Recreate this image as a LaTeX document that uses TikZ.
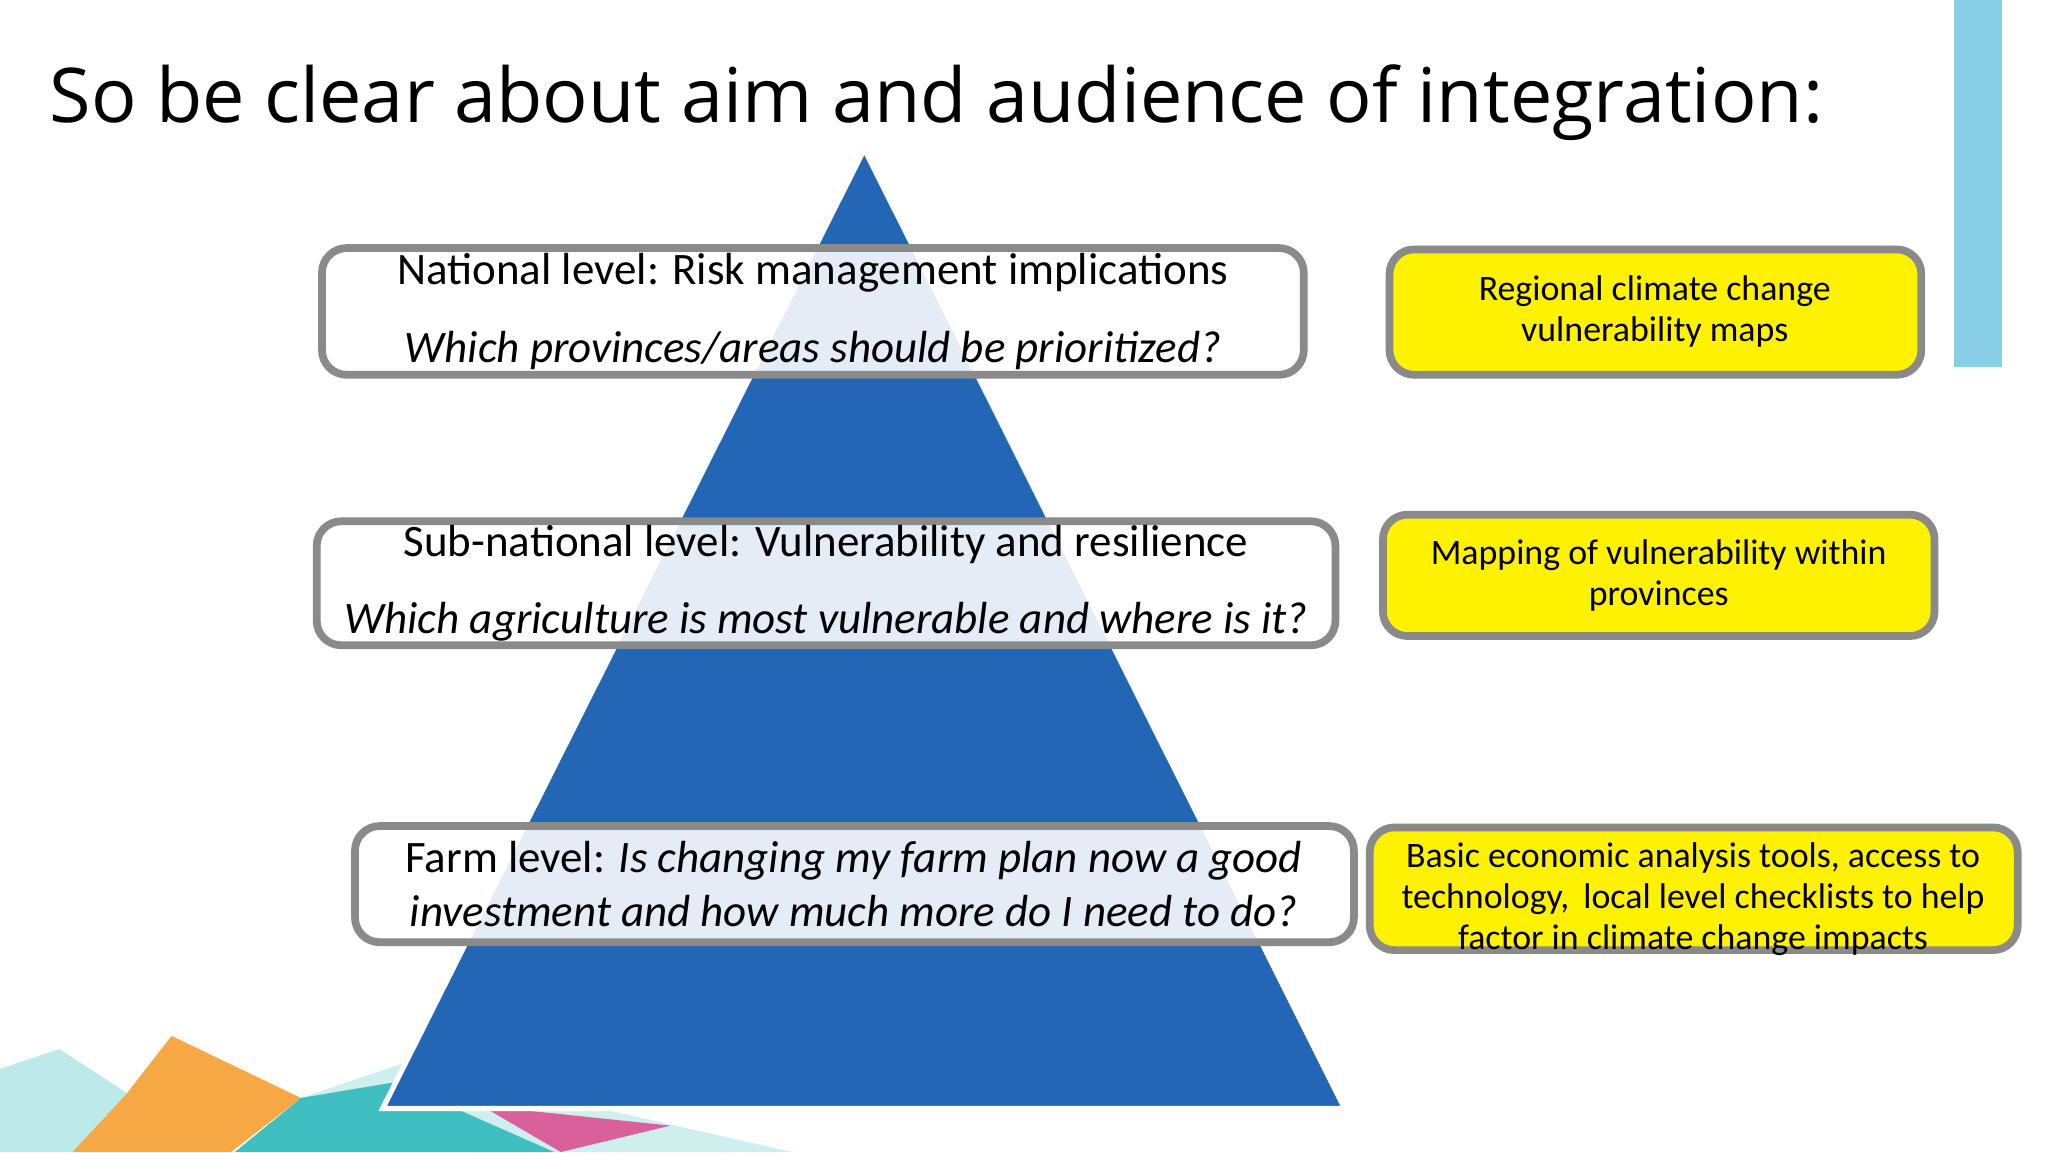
\documentclass[tikz,border=0pt]{standalone}
\usepackage{fontspec}
\setmainfont{Carlito}
\newfontfamily\titlefont{Open Sans}
\definecolor{pyrblue}{HTML}{2266B5}
\definecolor{barblue}{HTML}{87CEE6}
\definecolor{boxgray}{HTML}{8A8A8A}
\definecolor{decteal}{HTML}{3FBFBF}
\definecolor{decorange}{HTML}{F5A843}
\definecolor{decpink}{HTML}{D9609A}
\tikzset{
  levelbox/.style={draw=boxgray, line width=2.2pt, rounded corners=7pt, fill=white, fill opacity=0.88},
  toolbox/.style={draw=boxgray, line width=2.2pt, rounded corners=7pt, fill=yellow},
  leveltext/.style={align=center, inner sep=0pt, font=\fontsize{12.8}{22}\selectfont},
  tooltext/.style={align=center, inner sep=0pt, font=\fontsize{10.2}{11.6}\selectfont}
}
\begin{document}
\begin{tikzpicture}[x=0.013196cm, y=-0.013196cm]
\useasboundingbox (0,0) rectangle (1552,873);
\fill[white] (0,0) rectangle (1552,873);
% decoration bottom left
\fill[decteal!35] (0,810) -- (45,795) -- (165,873) -- (0,873) -- cycle;
\fill[decorange] (95,830) -- (130,785) -- (228,832) -- (175,873) -- (55,873) -- cycle;
\fill[decteal!25] (228,832) -- (305,806) -- (600,873) -- (360,873) -- cycle;
\fill[decteal] (178,873) -- (228,832) -- (300,820) -- (420,873) -- cycle;
\fill[decpink] (365,838) -- (508,853) -- (425,873) -- cycle;
% side bar
\fill[barblue] (1481,0) rectangle (1517,278);
% title
\node[anchor=base west, inner sep=0pt, font=\titlefont\fontsize{21.5}{26}\selectfont] (title) at (37,93) {So be clear about aim and audience of integration:};
% pyramid
\filldraw[fill=pyrblue, draw=white, line width=1.5pt] (655,113) -- (1019,840) -- (290,840) -- cycle;
% level boxes
\draw[levelbox] (244,188) rectangle (988,284);
\node[leveltext] (national) at (616,236)
  {National level: Risk management implications\\ \textit{Which provinces/areas should be prioritized?}};
\draw[levelbox] (240,395) rectangle (1012,489);
\node[leveltext] (subnational) at (626,442)
  {Sub-national level: Vulnerability and resilience\\ \textit{Which agriculture is most vulnerable and where is it?}};
\draw[levelbox] (269,626) rectangle (1026,714);
\node[leveltext, font=\fontsize{12.8}{15.5}\selectfont] (farm) at (647,670)
  {Farm level: \textit{Is changing my farm plan now a good}\\ \textit{investment and how much more do I need to do?}};
% tool boxes
\draw[toolbox] (1053,189) rectangle (1456,284);
\node[tooltext] (maps) at (1254,236) {Regional climate change\\ vulnerability maps};
\draw[toolbox] (1048,390) rectangle (1466,482);
\node[tooltext] (mapping) at (1257,436) {Mapping of vulnerability within\\ provinces};
\draw[toolbox] (1038,627) rectangle (1529,720);
\node[tooltext, anchor=north] (tools) at (1283,638)
  {Basic economic analysis tools, access to\\ technology,\, local level checklists to help\\ factor in climate change impacts};
\end{tikzpicture}
\end{document}
